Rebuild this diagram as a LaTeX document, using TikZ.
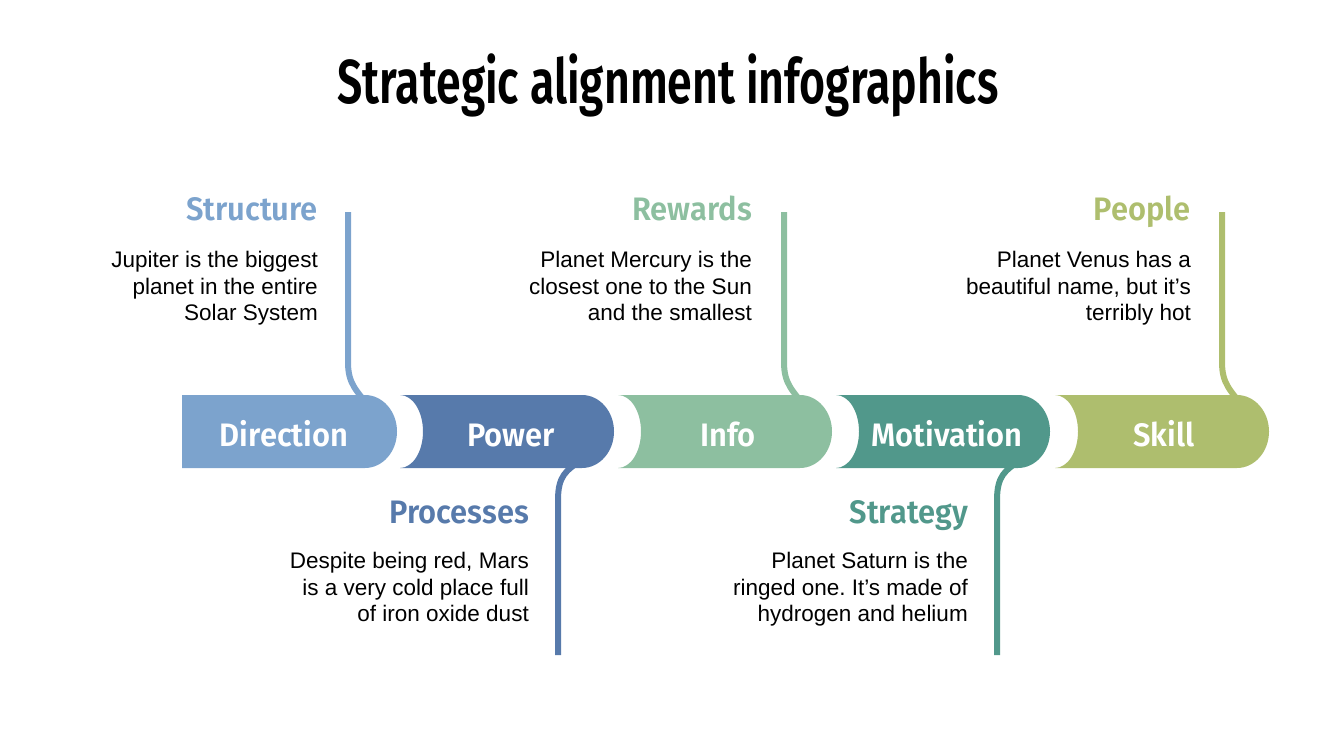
\documentclass[tikz,border=0pt]{standalone}
\usepackage{fontspec}
\setmainfont{Liberation Sans}
\newfontfamily\headfont[FakeStretch=0.95]{Fira Sans SemiBold}
\newfontfamily\titlefont[FakeStretch=0.72]{Fira Sans SemiBold}
\usetikzlibrary{positioning}
\definecolor{dirblue}{RGB}{124,163,205}
\definecolor{powblue}{RGB}{87,122,171}
\definecolor{infogreen}{RGB}{141,191,160}
\definecolor{motteal}{RGB}{81,152,139}
\definecolor{skillolive}{RGB}{174,190,110}
\frenchspacing

\begin{document}
\begin{tikzpicture}[x=1pt, y=-1pt, every node/.style={inner sep=0pt},
  title/.style={font=\titlefont\fontsize{62}{68}\selectfont, anchor=base},
  head/.style={font=\headfont\fontsize{32.5}{36}\selectfont, anchor=base east},
  body/.style={font=\fontsize{22.5}{26.5}\selectfont, align=right, anchor=north east},
  segtext/.style={font=\headfont\fontsize{32.5}{36}\selectfont, text=white, anchor=base},
  link/.style={line width=6pt}]
  \useasboundingbox (0,0) rectangle (1336,752);
  \node[title] (title) at (668,103) {Strategic alignment infographics};

  % links above and below the band
  \foreach \x/\c/\n in {348/dirblue/structure,784/infogreen/rewards,1222/skillolive/people}{
    \coordinate (\n top) at (\x,212);
    \coordinate (\n join) at (\x+24,410);
    \draw[link,\c] (\n top) -- (\x,362) .. controls (\x,384) and (\x+8,390) .. (\n join);
  }
  \foreach \x/\c/\n in {558/powblue/processes,997/motteal/strategy}{
    \coordinate (\n join) at (\x+24,460);
    \coordinate (\n end) at (\x,655);
    \draw[link,\c] (\n join) .. controls (\x+8,470) and (\x,476) .. (\x,500) -- (\n end);
  }

  % band
  \fill[dirblue] (182,395) -- (365,395) arc[start angle=-90,end angle=90,x radius=32,y radius=36.5] -- (182,468) -- cycle;
  \foreach \L/\c in {400/powblue,618/infogreen,836/motteal,1055/skillolive}{
    \fill[\c] (\L,395) -- (\L+182,395) arc[start angle=-90,end angle=90,x radius=32,y radius=36.5]
      -- (\L,468) arc[start angle=90,end angle=-90,x radius=23,y radius=36.5] -- cycle;
  }
  \node[segtext] (direction) at (284,446) {Direction};
  \node[segtext] (power) at (511,446) {Power};
  \node[segtext] (info) at (728,446) {Info};
  \node[segtext] (motivation) at (947,446) {Motivation};
  \node[segtext] (skill) at (1164,446) {Skill};

  % texts
  \node[head,text=dirblue] (structure) at (318,220) {Structure};
  \node[body] (structuretxt) at (318,251) {Jupiter is the biggest\\planet in the entire\\Solar System};
  \node[head,text=infogreen] (rewards) at (752,220) {Rewards};
  \node[body] (rewardstxt) at (752,251) {Planet Mercury is the\\closest one to the Sun\\and the smallest};
  \node[head,text=skillolive] (people) at (1191,220) {People};
  \node[body] (peopletxt) at (1191,251) {Planet Venus has a\\beautiful name, but it’s\\terribly hot};
  \node[head,text=powblue] (processes) at (529,523) {Processes};
  \node[body] (processestxt) at (529,552) {Despite being red, Mars\\is a very cold place full\\of iron oxide dust};
  \node[head,text=motteal] (strategy) at (968,523) {Strategy};
  \node[body] (strategytxt) at (968,552) {Planet Saturn is the\\ringed one. It’s made of\\hydrogen and helium};
\end{tikzpicture}
\end{document}
